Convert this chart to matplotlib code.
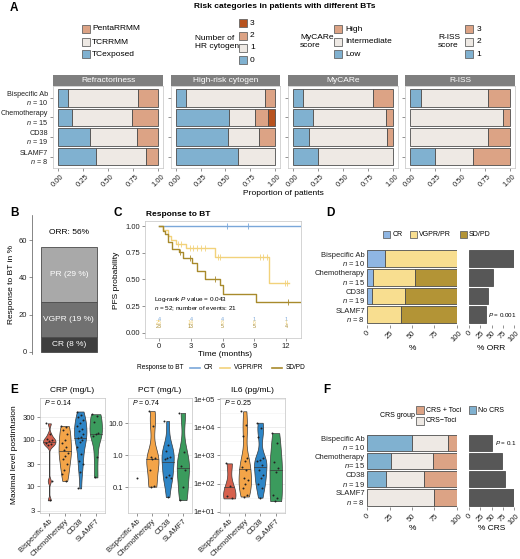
import numpy as np
import matplotlib.pyplot as plt
from matplotlib.patches import Rectangle

plt.rcParams['font.family'] = ['Liberation Sans', 'DejaVu Sans']
plt.rcParams['mathtext.fontset'] = 'custom'
plt.rcParams['mathtext.rm'] = 'Liberation Sans'
plt.rcParams['mathtext.it'] = 'Liberation Sans:italic'
plt.rcParams['font.size'] = 5.5
plt.rcParams['axes.linewidth'] = 0.5
for a in ('x', 'y'):
    plt.rcParams[a + 'tick.major.width'] = 0.5
    plt.rcParams[a + 'tick.major.size'] = 2
    plt.rcParams[a + 'tick.major.pad'] = 1.5
    plt.rcParams[a + 'tick.color'] = '#666666'
    plt.rcParams[a + 'tick.labelcolor'] = '#222222'
    plt.rcParams[a + 'tick.labelsize'] = 5.5

# ---------------- data ----------------
groups = ['Bispecific Ab', 'Chemotherapy', 'CD38', 'SLAMF7']
n_pat = [10, 15, 19, 8]

# A: proportions per risk category
refr_tcexposed = [0.10, 0.133, 0.316, 0.375]
refr_tcrrmm = [0.70, 0.600, 0.474, 0.500]
refr_penta = [0.20, 0.267, 0.210, 0.125]
cyto_0 = [0.10, 0.533, 0.526, 0.625]
cyto_1 = [0.80, 0.267, 0.316, 0.375]
cyto_2 = [0.10, 0.133, 0.158, 0.0]
cyto_3 = [0.0, 0.067, 0.0, 0.0]
mycare_low = [0.10, 0.200, 0.158, 0.25]
mycare_int = [0.70, 0.733, 0.789, 0.75]
mycare_high = [0.20, 0.067, 0.053, 0.0]
riss_1 = [0.111, 0.0, 0.0, 0.25]
riss_2 = [0.667, 0.929, 0.778, 0.375]
riss_3 = [0.222, 0.071, 0.222, 0.375]

# B: best response
resp_labels = ['CR', 'VGPR', 'PR']
resp_pct = [8, 19, 29]
orr_total = 56

# C: Kaplan-Meier steps
km_cr_t = [0, 13.4]
km_cr_s = [1.0, 1.0]
km_cr_cens = [6.4, 8.4]
km_vg_t = [0, 0.38, 0.85, 1.16, 1.6, 2.55, 5.28, 10.4, 12.3]
km_vg_s = [1.0, 0.965, 0.91, 0.865, 0.83, 0.79, 0.705, 0.47, 0.47]
km_vg_cens = [1.8, 2.1, 2.9, 3.2, 3.6, 4.0, 4.3, 5.6, 5.8, 9.5, 9.8, 10.2, 11.9, 12.1]
km_sd_t = [0, 0.32, 0.54, 0.85, 1.17, 1.89, 2.27, 3.06, 3.54, 4.32, 5.74, 6.0, 9.2, 13.4]
km_sd_s = [1.0, 0.958, 0.927, 0.848, 0.785, 0.753, 0.696, 0.658, 0.579, 0.506, 0.446, 0.36, 0.288, 0.288]
km_sd_cens = [2.0, 2.9, 5.3, 12.2]
risk_times = [0, 3, 6, 9, 12]
risk_cr = [4, 4, 4, 1, 1]
risk_vg = [25, 14, 6, 6, 1]
risk_sd = [23, 13, 5, 5, 4]

# D: response by BT
d_cr = [20.0, 6.7, 5.3, 0.0]
d_vgpr = [80.0, 46.7, 36.8, 37.5]
d_sdpd = [0.0, 46.6, 57.9, 62.5]
d_orr = [100.0, 53.3, 42.1, 37.5]

# E: maximal lab values postinfusion
crp_vals = [
    [223, 130, 105, 100, 95, 85, 80, 75, 13, 5],
    [195, 185, 160, 130, 100, 85, 70, 59, 52, 45, 38, 30, 22, 18, 13],
    [400, 330, 300, 260, 230, 200, 170, 150, 130, 115, 110, 100, 90, 70, 50, 35, 30, 20, 9],
    [350, 320, 240, 140, 131, 120, 43, 15.5],
]
pct_vals = [
    [0.19],
    [24, 8.3, 0.9, 0.82, 0.78, 0.35, 0.11, 0.105],
    [11.8, 2.1, 1.4, 0.9, 0.8, 0.76, 0.25, 0.21, 0.2, 0.05],
    [21, 1.23, 0.47, 0.35, 0.1, 0.04],
]
il6_vals = [
    [525, 81, 36, 30],
    [37000, 12000, 4900, 800, 650, 380, 300, 155, 135, 97, 68, 40, 35],
    [14500, 9500, 4400, 800, 720, 630, 455, 300, 200, 155, 100, 68, 32],
    [6200, 2700, 600, 350, 250, 40, 30, 24],
]
e_pvals = ['0.14', '0.74', '0.25']

# F: CRS
f_nocrs = [50.0, 26.7, 21.1, 0.0]
f_crs_notoci = [40.0, 46.6, 42.1, 75.0]
f_crs_toci = [10.0, 26.7, 36.8, 25.0]
f_crs = [50.0, 73.3, 78.9, 100.0]

# ---------------- helpers ----------------
W, H = 520, 559
fig = plt.figure(figsize=(W / 100, H / 100), dpi=100)


def axes_px(x0, y0, x1, y1):
    return fig.add_axes([x0 / W, 1 - y1 / H, (x1 - x0) / W, (y1 - y0) / H])


def text_px(x, y, s, **kw):
    kw.setdefault('va', 'center')
    return fig.text(x / W, 1 - y / H, s, **kw)


def key_px(x, y, color, size=8):
    fig.add_artist(Rectangle(((x - size / 2) / W, 1 - (y + size / 2) / H), size / W, size / H,
                             transform=fig.transFigure, facecolor=color,
                             edgecolor='#666666', lw=0.6))


def stacked(ax, segments, height=0.9, lw=0.6):
    ypos = np.arange(len(groups), 0, -1)
    left = np.zeros(len(groups))
    for vals, col in segments:
        vals = np.asarray(vals, float)
        m = vals > 0
        ax.barh(ypos[m], vals[m], left=left[m], height=height, color=col,
                edgecolor='#4d4d4d', lw=lw)
        left += vals
    return ypos


row_labels = [f'{g}\n$n$ = {n}' for g, n in zip(groups, n_pat)]
BLUE, BEIGE, SALMON, RUST = '#80b1d0', '#eee9e4', '#dca385', '#b7521e'
LIGHT = '#c4c4c4'

# ---------------- A ----------------
text_px(10, 8, 'A', fontsize=8.5, fontweight='bold')
text_px(285, 7, 'Risk categories in patients with different BTs', fontsize=6, fontweight='bold', ha='center')

for yy, col, lab in zip([29, 42, 54], [SALMON, BEIGE, BLUE], ['PentaRRMM', 'TCRRMM', 'TCexposed']):
    key_px(86, yy, col)
    text_px(92, yy, lab, fontsize=6)
text_px(195, 42.5, 'Number of\nHR cytogen', fontsize=6, linespacing=1.1)
for yy, col, lab in zip([23.3, 35.5, 47.7, 60], [RUST, SALMON, BEIGE, BLUE], ['3', '2', '1', '0']):
    key_px(242.5, yy, col)
    text_px(250, yy, lab, fontsize=6)
text_px(300, 41.7, 'MyCARe\nscore', fontsize=6, linespacing=1.1)
for yy, col, lab in zip([29.3, 41.7, 54.3], [SALMON, BEIGE, BLUE], ['High', 'Intermediate', 'Low']):
    key_px(338, yy, col)
    text_px(345, yy, lab, fontsize=6)
text_px(438, 41.7, 'R-ISS\nscore', fontsize=6, linespacing=1.1)
for yy, col, lab in zip([29.3, 41.7, 54.3], [SALMON, BEIGE, BLUE], ['3', '2', '1']):
    key_px(469, yy, col)
    text_px(476.5, yy, lab, fontsize=6)

facets = [
    ('Refractoriness', [(refr_tcexposed, BLUE), (refr_tcrrmm, BEIGE), (refr_penta, SALMON)]),
    ('High-risk cytogen', [(cyto_0, BLUE), (cyto_1, BEIGE), (cyto_2, SALMON), (cyto_3, RUST)]),
    ('MyCARe', [(mycare_low, BLUE), (mycare_int, BEIGE), (mycare_high, SALMON)]),
    ('R-ISS', [(riss_1, BLUE), (riss_2, BEIGE), (riss_3, SALMON)]),
]
facet_x = [(53.3, 163.3), (170.7, 280), (287.7, 397.7), (405, 515)]
for i, ((name, segs), (x0, x1)) in enumerate(zip(facets, facet_x)):
    ax = axes_px(x0, 86, x1, 168.3)
    ypos = stacked(ax, segs)
    ax.set_xlim(-0.05, 1.05)
    ax.set_ylim(0.4, 4.6)
    ax.set_xticks([0, 0.25, 0.5, 0.75, 1.0])
    ax.set_xticklabels(['0.00', '0.25', '0.50', '0.75', '1.00'], rotation=45, ha='center')
    ax.set_yticks(ypos)
    if i == 0:
        ax.set_yticklabels(row_labels, linespacing=1.05, fontsize=5.2)
    else:
        ax.set_yticklabels([])
    for s in ax.spines.values():
        s.set_color(LIGHT)
    sx = axes_px(x0, 74.7, x1, 86)
    sx.set_facecolor('#7f7f7f')
    sx.set_xticks([])
    sx.set_yticks([])
    for s in sx.spines.values():
        s.set_visible(False)
    sx.text(0.5, 0.5, name, color='white', ha='center', va='center', fontsize=6, transform=sx.transAxes)
text_px(283, 193.3, 'Proportion of patients', fontsize=6, ha='center')

# ---------------- B ----------------
text_px(10, 213, 'B', fontsize=8.5, fontweight='bold')
axB = axes_px(32, 215, 100, 354)
bot = 0
for lab, val, col in zip(resp_labels, resp_pct, ['#3e3e3e', '#717171', '#a9a9a9']):
    axB.bar(0, val, bottom=bot, width=0.9, color=col, edgecolor='#4a4a4a', lw=0.6)
    axB.text(0, bot + val / 2, f'{lab} ({val} %)', color='white', ha='center', va='center', fontsize=6)
    bot += val
axB.text(0, 64, f'ORR: {orr_total}%', ha='center', va='center', fontsize=6)
axB.set_xlim(-0.595, 0.504)
axB.set_ylim(-1.1, 73.4)
axB.set_yticks([0, 20, 40, 60])
axB.set_xticks([])
for k in ('top', 'right', 'bottom'):
    axB.spines[k].set_visible(False)
axB.spines['left'].set_color('#555555')
text_px(12, 285, 'Response to BT in %', fontsize=6, rotation=90, ha='center')

# ---------------- C ----------------
text_px(113, 213, 'C', fontsize=8.5, fontweight='bold')
axC = axes_px(145, 220.7, 300.7, 338)
C_CR, C_VG, C_SD = '#7aa7d9', '#f2d27b', '#a88a2c'
for t, s, cens, col in [(km_cr_t, km_cr_s, km_cr_cens, C_CR),
                        (km_vg_t, km_vg_s, km_vg_cens, C_VG),
                        (km_sd_t, km_sd_s, km_sd_cens, C_SD)]:
    axC.step(t, s, where='post', color=col, lw=1.0)
    cs = [s[np.searchsorted(t, c, side='right') - 1] for c in cens]
    axC.plot(cens, cs, ls='none', marker='|', ms=4, mew=0.6, color=col)
axC.set_xlim(-1.35, 13.4)
axC.set_ylim(-0.05, 1.05)
axC.set_xticks(risk_times)
axC.set_yticks([0, 0.25, 0.5, 0.75, 1.0])
axC.set_yticklabels(['0.00', '0.25', '0.50', '0.75', '1.00'])
for s in axC.spines.values():
    s.set_color(LIGHT)
axC.text(-0.47, 0.31, 'Log-rank $P$ value = 0.043', fontsize=4.6, va='center')
axC.text(-0.47, 0.225, '$n$ = 52; number of events: 21', fontsize=4.6, va='center')
for vals, yy, col in [(risk_cr, 0.127, C_CR), (risk_vg, 0.092, C_VG), (risk_sd, 0.054, C_SD)]:
    for tt, v in zip(risk_times, vals):
        axC.text(tt, yy, str(v), color=col, fontsize=3.9, ha='center', va='center')
text_px(146, 214, 'Response to BT', fontsize=6, fontweight='bold', ha='left')
text_px(117, 280, 'PFS probability', fontsize=6, rotation=90, ha='center')
text_px(225, 355, 'Time (months)', fontsize=6, ha='center')
text_px(137, 367.5, 'Response to BT', fontsize=4.7)
for x0, col, lab in [(190, C_CR, 'CR'), (220, C_VG, 'VGPR/PR'), (271.7, C_SD, 'SD/PD')]:
    fig.add_artist(plt.Line2D([x0 / W, (x0 + 10) / W], [1 - 367.5 / H] * 2, color=col, lw=1.2))
    text_px(x0 + 14, 367.5, lab, fontsize=4.7)

# ---------------- D ----------------
text_px(326, 213, 'D', fontsize=8.5, fontweight='bold')
D_CR, D_VG, D_SD = '#8fb6e3', '#f8de90', '#b39436'
for x0, col, lab in [(386.3, D_CR, 'CR'), (413, D_VG, 'VGPR/PR'), (463, D_SD, 'SD/PD')]:
    key_px(x0, 234.5, col, size=7)
    text_px(x0 + 6, 234.5, lab, fontsize=5)


def pct_axes(ax, labels):
    ax.set_xlim(0, 100)
    ax.set_ylim(0.45, 4.55)
    ax.set_xticks([0, 25, 50, 75, 100])
    ax.set_xticklabels(['0', '25', '50', '75', '100'], rotation=45, ha='center')
    ax.set_yticks(np.arange(len(groups), 0, -1))
    if labels is None:
        ax.set_yticks([])
    else:
        ax.set_yticklabels(labels, linespacing=1.05)
        ax.tick_params(axis='y', length=0)
    for s in ax.spines.values():
        s.set_visible(False)


axD = axes_px(367.3, 248.4, 456.7, 325)
stacked(axD, [(d_cr, D_CR), (d_vgpr, D_VG), (d_sdpd, D_SD)])
pct_axes(axD, row_labels)
axD2 = axes_px(469, 248.4, 514, 325)
stacked(axD2, [(d_orr, '#575757')])
pct_axes(axD2, None)
axD2.text(43, 1, '$P$ = 0.001', fontsize=4.5, va='center')
text_px(412, 348, '%', fontsize=6, ha='center')
text_px(491.5, 348, '% ORR', fontsize=6, ha='center')

# ---------------- E ----------------
text_px(10, 390, 'E', fontsize=8.5, fontweight='bold')
E_COLS = ['#d6604d', '#f3a448', '#2d85c6', '#3b9b5d']


def violin_panel(ax, datasets, half_width=0.4):
    for i, (vals, col) in enumerate(zip(datasets, E_COLS)):
        pos = i + 1
        lv = np.log10(np.asarray(vals, float))
        if len(lv) > 1:
            q75, q25 = np.percentile(lv, [75, 25])
            lo = min(lv.std(ddof=1), (q75 - q25) / 1.34) or lv.std(ddof=1)
            bw = 0.9 * lo * len(lv) ** -0.2
            grid = np.linspace(lv.min(), lv.max(), 512)
            d = np.exp(-0.5 * ((grid[:, None] - lv[None, :]) / bw) ** 2).sum(1)
            w = d / d.max() * half_width
            ax.fill_betweenx(grid, pos - w, pos + w, facecolor=col, edgecolor='#3a3a3a', lw=0.5, zorder=2)
            cdf = np.cumsum(d)
            cdf /= cdf[-1]
            med = np.interp(0.5, cdf, grid)
            wm = np.interp(med, grid, w)
            ax.plot([pos - wm, pos + wm], [med, med], color='#3a3a3a', lw=0.5, zorder=3)
            offs = ((np.arange(len(lv)) * 0.618) % 1 - 0.5) * 0.45
        else:
            offs = np.zeros(1)
        ax.scatter(pos + offs, lv, s=2, color='#222222', lw=0, zorder=4)


e_panels = [
    ('CRP (mg/L)', crp_vals, (40, 105), (0.427, 2.898), [3, 10, 30, 100, 300], ['3', '10', '30', '100', '300']),
    ('PCT (mg/L)', pct_vals, (128, 192), (-1.8, 1.8), [0.1, 1, 10], ['0.1', '1.0', '10.0']),
    ('IL6 (pg/mL)', il6_vals, (220, 285), (0.96, 5.05), [1e1, 1e2, 1e3, 1e4, 1e5],
     ['1e+01', '1e+02', '1e+03', '1e+04', '1e+05']),
]
for (title, data, (x0, x1), ylim, ticks, tlabels), pv in zip(e_panels, e_pvals):
    ax = axes_px(x0, 397.7, x1, 513)
    lt = np.log10(ticks)
    ax.set_yticks(lt)
    ax.set_yticklabels(tlabels)
    ax.set_yticks((lt[:-1] + lt[1:]) / 2, minor=True)
    ax.tick_params(axis='y', which='minor', length=0)
    ax.grid(axis='y', which='major', color='#e6e6e6', lw=0.5, zorder=0)
    ax.grid(axis='y', which='minor', color='#f2f2f2', lw=0.4, zorder=0)
    ax.set_axisbelow(True)
    violin_panel(ax, data)
    ax.set_xlim(0.4, 4.6)
    ax.set_ylim(*ylim)
    ax.set_xticks([1, 2, 3, 4])
    ax.set_xticklabels(groups, rotation=45, ha='right', va='top', rotation_mode='anchor')
    for s in ax.spines.values():
        s.set_color(LIGHT)
    ax.text(0.06, 0.955, f'$P$ = {pv}', fontsize=5, transform=ax.transAxes, va='center')
    text_px((x0 + x1) / 2, 391, title, fontsize=6, ha='center')
text_px(15, 455, 'Maximal level postinfusion', fontsize=6, rotation=90, ha='center')

# ---------------- F ----------------
text_px(323, 390, 'F', fontsize=8.5, fontweight='bold')
text_px(414.5, 415.5, 'CRS group', fontsize=5, ha='right')
for x0, y0, col, lab in [(420, 410, SALMON, 'CRS + Toci'), (472.5, 410, BLUE, 'No CRS'),
                         (420, 421, BEIGE, 'CRS\u2212Toci')]:
    key_px(x0, y0, col, size=7.5)
    text_px(x0 + 6, y0, lab, fontsize=5)

f_labels = list(row_labels)
f_labels[1] = f'{groups[1]}\n$n$= {n_pat[1]}'
axF = axes_px(367.3, 432.8, 456.7, 507.4)
stacked(axF, [(f_nocrs, BLUE), (f_crs_notoci, BEIGE), (f_crs_toci, SALMON)])
pct_axes(axF, f_labels)
axF2 = axes_px(469, 432.8, 514, 507.4)
stacked(axF2, [(f_crs, '#575757')])
pct_axes(axF2, None)
axF2.text(58, 4, '$P$ = 0.1', fontsize=4.5, va='center')
text_px(412, 528.5, '%', fontsize=6, ha='center')
text_px(491.5, 528.5, '% CRS', fontsize=6, ha='center')

fig.savefig('out.png', dpi=100)
